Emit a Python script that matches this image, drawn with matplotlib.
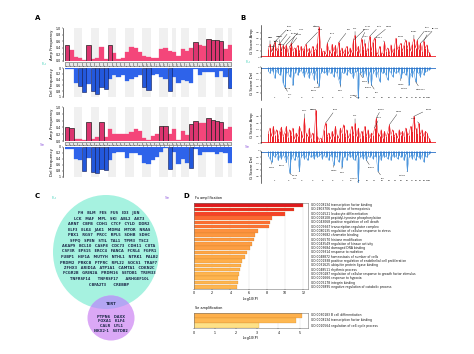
import matplotlib
matplotlib.use('Agg')
import matplotlib.pyplot as plt
import numpy as np
from matplotlib.patches import Ellipse, Rectangle

W, H = 474, 354
plt.rcParams['font.family'] = ['DejaVu Sans']
fig = plt.figure(figsize=(W / 100, H / 100), dpi=100)


def px_axes(x0, y0, x1, y1):
    return fig.add_axes([x0 / W, 1 - y1 / H, (x1 - x0) / W, (y1 - y0) / H])


# ---------------- Panel A data ----------------
arms = ['1p', '1q', '2p', '2q', '3p', '3q', '4p', '4q', '5p', '5q', '6p', '6q',
        '7p', '7q', '8p', '8q', '9p', '9q', '10p', '10q', '11p', '11q', '12p',
        '12q', '13q', '14q', '15q', '16p', '16q', '17p', '17q', '18p', '18q',
        '19p', '19q', '20p', '20q', '21q', '22q']
fu_amp = [0.48, 0.34, 0.13, 0.08, 0.02, 0.50, 0.05, 0.08, 0.41, 0.05, 0.49, 0.23,
          0.05, 0.08, 0.27, 0.42, 0.38, 0.27, 0.16, 0.12, 0.08, 0.08, 0.35, 0.38,
          0.30, 0.26, 0.14, 0.37, 0.31, 0.40, 0.58, 0.50, 0.44, 0.67, 0.64, 0.63,
          0.60, 0.35, 0.50]
fu_del = [0.05, 0.05, 0.50, 0.63, 0.82, 0.55, 0.80, 0.88, 0.67, 0.74, 0.37, 0.25,
          0.31, 0.25, 0.45, 0.37, 0.31, 0.25, 0.67, 0.75, 0.25, 0.20, 0.30, 0.37,
          0.79, 0.30, 0.50, 0.40, 0.45, 0.50, 0.05, 0.25, 0.15, 0.15, 0.15, 0.30,
          0.10, 0.30, 0.70]
se_amp = [0.40, 0.37, 0.07, 0.06, 0.04, 0.57, 0.07, 0.12, 0.55, 0.12, 0.35, 0.22,
          0.20, 0.22, 0.20, 0.27, 0.34, 0.30, 0.10, 0.04, 0.14, 0.22, 0.44, 0.44,
          0.20, 0.35, 0.04, 0.30, 0.19, 0.50, 0.59, 0.52, 0.54, 0.67, 0.62, 0.59,
          0.57, 0.34, 0.42]
se_del = [0.05, 0.05, 0.40, 0.43, 0.80, 0.37, 0.83, 0.88, 0.72, 0.77, 0.43, 0.20,
          0.18, 0.15, 0.37, 0.20, 0.20, 0.25, 0.52, 0.57, 0.43, 0.32, 0.15, 0.02,
          0.74, 0.15, 0.55, 0.40, 0.52, 0.70, 0.05, 0.26, 0.18, 0.18, 0.15, 0.22,
          0.15, 0.20, 0.52]
fu_amp_sig = ['1p', '3q', '6p', '17q', '19p', '19q', '20p', '20q']
se_amp_sig = ['1p', '1q', '3q', '5p', '12p', '12q', '17p', '17q', '19p', '19q', '20p', '20q']
fu_del_sig = ['2q', '3p', '4p', '4q', '5p', '5q', '10p', '10q', '13q', '22q']
se_del_sig = ['3p', '4p', '4q', '5p', '5q', '13q', '17p']

AMP_C = '#f4467a'
DEL_C = '#2e63ea'
TEAL = '#56d6c0'
PURP = '#9b6be0'
FS_T = 2.3


def stripes(ax):
    for i, a in enumerate(arms):
        c = int(a[:-1])
        if c % 2 == 0:
            ax.axvspan(i - 0.5, i + 0.5, color='#f0f0f0', lw=0, zorder=0)


def style_left(ax):
    for s in ['top', 'right', 'bottom']:
        ax.spines[s].set_visible(False)
    ax.spines['left'].set_linewidth(0.4)
    ax.spines['left'].set_position(('outward', 1.5))
    ax.set_xticks([])
    ax.tick_params(axis='y', labelsize=FS_T, length=1, width=0.3, pad=0.6)


def amp_panel(ax, vals, sig):
    x = np.arange(len(arms))
    stripes(ax)
    for i, a in enumerate(arms):
        s = a in sig
        ax.bar(x[i], vals[i], width=1.0, color='#dc3570' if s else AMP_C,
               edgecolor='#202020' if s else AMP_C, lw=0.5 if s else 0.2, zorder=3 if s else 2)
    ax.set_xlim(-0.5, len(arms) - 0.5)
    ax.set_ylim(0, 1.0)
    ax.set_yticks([0, 0.2, 0.4, 0.6, 0.8, 1.0])
    ax.set_yticklabels(['0.0', '0.2', '0.4', '0.6', '0.8', '1.0'])
    ax.set_ylabel('Amp Frequency', fontsize=2.8, labelpad=1)
    style_left(ax)


def del_panel(ax, vals, sig):
    x = np.arange(len(arms))
    stripes(ax)
    for i, a in enumerate(arms):
        s = a in sig
        ax.bar(x[i], vals[i], width=1.0, color='#2358dc' if s else DEL_C,
               edgecolor='#101850' if s else DEL_C, lw=0.4 if s else 0.2, zorder=3 if s else 2)
    ax.set_xlim(-0.5, len(arms) - 0.5)
    ax.set_ylim(1.0, 0)
    ax.set_yticks([0, 0.2, 0.4, 0.6, 0.8, 1.0])
    ax.set_yticklabels(['0', '0.2', '0.4', '0.6', '0.8', '1'])
    ax.set_ylabel('Del Frequency', fontsize=2.8, labelpad=1)
    style_left(ax)


def strip(ax):
    ax.set_xlim(-0.5, len(arms) - 0.5)
    ax.set_ylim(0, 1)
    ax.axis('off')
    ax.add_patch(Rectangle((-0.5, 0), len(arms), 1, color='#9c9c9c', lw=0))
    for i, a in enumerate(arms):
        ax.add_patch(Rectangle((i - 0.38, 0.15), 0.76, 0.7, color='#e8e8e8', lw=0))
        ax.text(i, 0.5, a, fontsize=1.3, rotation=90, ha='center', va='center', color='#333333')


fig.text(35 / W, 1 - 18 / H, 'A', fontsize=5, fontweight='bold', va='center')
a1 = px_axes(65, 28, 232, 61); amp_panel(a1, fu_amp, fu_amp_sig)
s1 = px_axes(65, 62, 232, 67); strip(s1)
d1 = px_axes(65, 68, 232, 97); del_panel(d1, fu_del, fu_del_sig)
fig.text(42 / W, 1 - 64 / H, 'Fu', fontsize=3, color=TEAL, va='center')
a2 = px_axes(65, 107, 232, 141); amp_panel(a2, se_amp, se_amp_sig)
s2 = px_axes(65, 142, 232, 146); strip(s2)
d2 = px_axes(65, 147, 232, 177); del_panel(d2, se_del, se_del_sig)
fig.text(40 / W, 1 - 145 / H, 'Se', fontsize=3, color=PURP, va='center')

# ---------------- Panel B data ----------------
chrom_names = [str(i) for i in range(1, 23)]
chrom_sizes = [249, 243, 198, 191, 181, 171, 159, 146, 141, 136, 135, 133,
               115, 107, 102, 90, 83, 80, 59, 64, 47, 51]
fu_gamp = [0.25, 0.42, 0.18, 0.35, 0.50, 0.22, 0.30, 0.45, 0.20, 0.38,
           0.28, 0.40, 0.15, 0.33, 0.46, 0.20, 0.30, 0.25, 0.38, 0.15,
           0.35, 0.22, 0.30, 0.42, 0.18, 0.28, 0.12, 0.35, 0.20, 0.25,
           0.45, 1.00, 0.30, 0.15, 0.20, 0.10, 0.45, 0.22, 0.12, 0.42,
           0.20, 0.38, 0.10, 0.48, 0.15, 0.30, 0.12, 0.25, 0.35, 0.10,
           0.30, 0.15, 0.55, 0.72, 0.20, 0.35, 0.12, 0.60, 0.25, 0.45,
           0.15, 0.30, 0.68, 0.20, 0.50, 0.62, 0.18, 0.10, 0.35, 0.12,
           0.12, 0.50, 0.20, 0.30, 0.10, 0.40, 0.15, 0.28, 0.62, 0.25,
           0.35, 0.45, 0.20, 0.40, 0.55, 0.30, 0.50, 0.20, 0.42, 0.60,
           0.30, 0.55, 0.25, 0.45, 0.20, 0.52, 0.30, 0.40, 0.15, 0.10]
fu_gdel = [0.12, 0.20, 0.08, 0.15, 0.35, 0.10, 0.18, 0.25, 0.12, 0.50,
           0.62, 0.20, 0.15, 0.30, 0.12, 0.55, 0.20, 0.10, 0.25, 0.15,
           0.10, 0.18, 0.30, 0.12, 0.20, 0.35, 0.15, 0.20, 0.40, 0.12,
           0.45, 0.60, 0.20, 0.12, 0.18, 0.15, 0.25, 0.10, 0.20, 0.15,
           0.30, 0.12, 0.20, 0.38, 0.55, 0.15, 0.20, 0.12, 0.25, 0.10,
           0.18, 0.20, 0.35, 0.15, 0.12, 0.97, 0.20, 0.15, 0.30, 0.12,
           0.25, 0.45, 0.15, 0.55, 0.20, 0.10, 0.30, 0.15, 0.45, 0.12,
           0.20, 0.15, 0.25, 0.40, 0.10, 0.18, 0.30, 0.12, 0.20, 0.15,
           0.10, 0.35, 0.20, 0.15, 0.25, 0.12, 0.55, 0.20, 0.30, 0.12,
           0.45, 0.15, 0.20, 0.30, 0.10, 0.25, 0.15, 0.12, 0.08, 0.05]
se_gamp = [0.30, 0.45, 0.20, 0.50, 0.25, 0.40, 0.15, 0.35, 0.48, 0.20,
           0.30, 0.50, 0.18, 0.40, 0.25, 0.45, 0.12, 0.30, 0.20, 0.50,
           0.35, 0.15, 0.75, 0.30, 0.20, 0.45, 0.15, 0.30, 0.10, 1.00,
           0.20, 0.10, 0.15, 0.08, 0.40, 0.60, 0.20, 0.30, 0.12, 0.35,
           0.20, 0.50, 0.25, 0.15, 0.45, 0.30, 0.55, 0.20, 0.40, 0.15,
           0.30, 0.50, 0.25, 0.60, 0.20, 0.45, 0.15, 0.35, 0.25, 0.50,
           0.20, 0.40, 0.15, 0.30, 0.25, 0.45, 0.75, 0.30, 0.20, 0.40,
           0.15, 0.35, 0.20, 0.30, 0.55, 0.25, 0.40, 0.20, 0.30, 0.15,
           0.40, 0.25, 0.35, 0.20, 0.45, 0.30, 0.25, 0.50, 0.35, 0.80,
           0.45, 0.30, 0.60, 0.25, 0.40, 0.20, 0.35, 0.30, 0.15, 0.10]
se_gdel = [0.15, 0.25, 0.35, 0.12, 0.20, 0.10, 0.30, 0.15, 0.25, 0.12,
           0.20, 0.35, 0.15, 0.70, 0.25, 0.12, 0.30, 0.15, 0.20, 0.65,
           0.20, 0.12, 0.25, 0.15, 0.30, 0.10, 0.20, 0.15, 0.25, 0.12,
           0.20, 0.15, 0.10, 0.25, 0.12, 0.20, 0.15, 0.30, 0.12, 0.20,
           0.45, 0.15, 0.20, 0.35, 0.12, 0.50, 0.20, 0.15, 0.30, 0.10,
           0.20, 0.15, 0.25, 0.30, 0.12, 1.00, 0.20, 0.15, 0.25, 0.12,
           0.30, 0.15, 0.20, 0.12, 0.25, 0.15, 0.20, 0.65, 0.15, 0.30,
           0.12, 0.20, 0.15, 0.25, 0.10, 0.30, 0.12, 0.20, 0.15, 0.25,
           0.12, 0.20, 0.15, 0.30, 0.10, 0.65, 0.20, 0.15, 0.25, 0.12,
           0.30, 0.15, 0.20, 0.25, 0.12, 0.35, 0.15, 0.20, 0.10, 0.05]
# peak labels: gene name and bin index of its locus
fu_amp_genes = ['MCL1', 'JUN', 'MYCL', 'BCL9', 'ARNT', 'SETDB1', 'MDM4', 'NRAS',
                'AKT3', 'CDK4', 'REL', 'MYCN', 'ALK', 'ERBB4', 'SOX2', 'TERT',
                'MYC', 'CCND1', 'KRAS', 'MDM2', 'ERBB2', 'CCNE1', 'ZNF217', 'AKT2',
                'BCL2L1', 'NKX2-1', 'YAP1', 'EGFR', 'MET', 'FGFR1']
fu_amp_loci = [4, 1, 3, 7, 4, 5, 7, 2, 9, 11, 10, 8, 14, 13, 23, 31, 53, 57, 62, 65,
               84, 89, 95, 91, 93, 71, 59, 36, 43, 52]
fu_del_genes = ['CDKN2A', 'PTEN', 'RB1', 'SMAD4', 'WWOX', 'FHIT', 'LRP1B', 'PDE4D',
                'MACROD2', 'PARK2', 'CSMD1', 'PTPRD']
fu_del_loci = [55, 44, 63, 86, 81, 10, 15, 30, 90, 31, 61, 56]
se_amp_genes = ['TERT', 'MYC', 'CCND1', 'MDM2', 'ERBB2', 'CDK4', 'MCL1', 'KRAS', 'SOX2']
se_amp_loci = [29, 53, 66, 74, 89, 92, 22, 65, 35]
se_del_genes = ['CDKN2A', 'PTEN', 'RB1', 'SMAD4', 'WWOX', 'FHIT', 'LRP1B', 'PTPRD',
                'CSMD1', 'PARK2']
se_del_loci = [55, 45, 67, 85, 40, 13, 19, 2, 60, 11]

T = sum(chrom_sizes)
starts = np.concatenate([[0], np.cumsum(chrom_sizes)[:-1]])
mids = starts + np.array(chrom_sizes) / 2.0


def g_style(ax, label, ylim):
    for s in ['top', 'right', 'bottom']:
        ax.spines[s].set_visible(False)
    ax.spines['left'].set_linewidth(0.4)
    ax.set_xticks([])
    ax.set_xlim(-0.04 * T, 1.03 * T)
    ax.set_ylim(*ylim)
    ax.set_yticks([0, 0.2, 0.4, 0.6, 0.8])
    ax.set_yticklabels(['0', '0.2', '0.4', '0.6', '0.8'])
    ax.tick_params(axis='y', labelsize=1.6, length=0.8, width=0.3, pad=0.4)
    ax.set_ylabel(label, fontsize=2.8, labelpad=1)


def g_amp(ax, vals, genes, loci):
    n = len(vals)
    x = (np.arange(n) + 0.5) / n * T
    ax.vlines(x, 0, vals, color='#ec1c24', lw=0.7)
    ax.plot(x, vals, color='#ec1c24', lw=0.35)
    ax.axhline(0.04, color='#ec1c24', lw=0.6)
    g_style(ax, 'G Score Amp', (0, 1.05))
    for k, (g, i) in enumerate(zip(genes, loci)):
        xt = x[i] + ((k % 5) - 1) * 0.03 * T
        yt = min(vals[i] + 0.12 + 0.09 * (k % 5), 1.0)
        ax.annotate(g, xy=(x[i], vals[i]), xytext=(xt, yt), fontsize=1.4,
                    ha='center', va='bottom', color='black',
                    arrowprops=dict(arrowstyle='-', lw=0.25, color='black',
                                    shrinkA=0, shrinkB=0))


def g_del(ax, vals, genes, loci):
    n = len(vals)
    x = (np.arange(n) + 0.5) / n * T
    ax.vlines(x, 0, vals, color='#4c95dc', lw=0.7)
    ax.plot(x, vals, color='#4c95dc', lw=0.35)
    ax.axhline(0.04, color='#2a70c8', lw=0.6)
    for k, (g, i) in enumerate(zip(genes, loci)):
        xt = x[i] + ((k % 3) - 1) * 0.03 * T
        yt = min(vals[i] + 0.1 + 0.06 * (k % 3), 0.85)
        ax.annotate(g, xy=(x[i], vals[i]), xytext=(xt, yt), fontsize=1.4,
                    ha='center', va='top', color='black',
                    arrowprops=dict(arrowstyle='-', lw=0.25, color='black',
                                    shrinkA=0, shrinkB=0))
    for nm, m in zip(chrom_names, mids):
        ax.text(m, 0.93, nm, fontsize=1.6, ha='center', va='center')
    g_style(ax, 'G Score Del', (1.02, 0))


fig.text(240 / W, 1 - 18 / H, 'B', fontsize=5, fontweight='bold', va='center')
b1 = px_axes(261, 25, 436, 57); g_amp(b1, fu_gamp, fu_amp_genes, fu_amp_loci)
b2 = px_axes(261, 67, 436, 100); g_del(b2, fu_gdel, fu_del_genes, fu_del_loci)
fig.text(246 / W, 1 - 62 / H, 'Fu', fontsize=3, color=TEAL, va='center')
b3 = px_axes(261, 108, 436, 143); g_amp(b3, se_gamp, se_amp_genes, se_amp_loci)
b4 = px_axes(261, 151, 436, 183); g_del(b4, se_gdel, se_del_genes, se_del_loci)
fig.text(245 / W, 1 - 147 / H, 'Se', fontsize=3, color=PURP, va='center')

# ---------------- Panel C data ----------------
fu_only_rows = ['FH   BLM   FES   FUS   ID3   JUN',
                'LCK   MAF   MPL   SKI   ABL2   AKT3',
                'ARNT   CBFB   CDH1   CTCF   CYLD   DDR2',
                'ELF3   ELK4   JAK1   MDM4   MTOR   NRAS',
                'PBX1   RGS7   PRCC   RPL5   SDHB   SDHC',
                'SFPQ   SPEN   STIL   TAL1   TPM3   TSC2',
                'AKAP9   BCL10   CASP8   CDC73   CDH11   CIITA',
                'CSF3R   EPS15   ERCC4   FANCA   FCRL4   FGFR1',
                'FUBP1   HIF1A   MUTYH   NTHL1   NTRK1   PALB2',
                'PRDM2   PRKCB   PTPRC   RPL22   SOCS1   TRAF7',
                'ZFHX3   ARID1A   ATP1A1   CAMTA1   CDKN2C',
                'FCGR2B   GRIN2A   PRDM16   SETDB1   TRIM33',
                'TNFRSF14      TNFRSF17      ARHGEF10L',
                'CBFA2T3      CREBBP']
shared = ['TERT']
se_only_rows = ['PTPN6   DAXX', 'FOXA1   KLF4', 'CALR   LYL1', 'NKX2-1   SETDB2']

c = px_axes(35, 188, 185, 350)
c.set_xlim(35, 185); c.set_ylim(350, 188); c.axis('off')
big = Ellipse((106, 252), 106, 114, color='#a6f2e0', lw=0)
small = Ellipse((111, 318), 47, 45, color='#dba8f6', lw=0)
c.add_patch(big); c.add_patch(small)
ov = Ellipse((111, 318), 47, 45, color='#b3a6f3', lw=0)
c.add_patch(ov)
clip = Ellipse((106, 252), 106, 114, transform=c.transData)
ov.set_clip_path(clip)
for k, r in enumerate(fu_only_rows):
    c.text(109, 213 + 5.5 * k, r, fontsize=2.55, ha='center', va='center',
           color='#1e2a4a', fontweight='bold', family='Liberation Sans Narrow')
c.text(111, 304, shared[0], fontsize=2.8, ha='center', va='center',
       color='#1e2a4a', fontweight='bold', family='Liberation Sans Narrow')
for k, r in enumerate(se_only_rows):
    c.text(111, 317 + 4.5 * k, r, fontsize=2.55, ha='center', va='center',
           color='#1e2a4a', fontweight='bold', family='Liberation Sans Narrow')
fig.text(35 / W, 1 - 196 / H, 'C', fontsize=5, fontweight='bold', va='center')
fig.text(52 / W, 1 - 198 / H, 'Fu', fontsize=3, color=TEAL, va='center')
fig.text(165 / W, 1 - 198 / H, 'Se', fontsize=3, color=PURP, va='center')

# ---------------- Panel D data ----------------
fu_terms = ['GO:0008134 transcription factor binding',
            'GO:1903706 regulation of hemopoiesis',
            'GO:0002521 leukocyte differentiation',
            'GO:0018108 peptidyl-tyrosine phosphorylation',
            'GO:0043068 positive regulation of cell death',
            'GO:0005667 transcription regulator complex',
            'GO:0080135 regulation of cellular response to stress',
            'GO:0003682 chromatin binding',
            'GO:0016570 histone modification',
            'GO:0043549 regulation of kinase activity',
            'GO:0003684 damaged DNA binding',
            'GO:0009314 response to radiation',
            'GO:0048872 homeostasis of number of cells',
            'GO:0001938 positive regulation of endothelial cell proliferation',
            'GO:0031625 ubiquitin protein ligase binding',
            'GO:0048511 rhythmic process',
            'GO:0090287 regulation of cellular response to growth factor stimulus',
            'GO:0001666 response to hypoxia',
            'GO:0005178 integrin binding',
            'GO:0009895 negative regulation of catabolic process']
fu_logp = [11.9, 11.0, 10.0, 8.55, 8.36, 8.18, 7.0, 6.7, 6.54, 6.36, 6.18, 5.85,
           5.56, 5.27, 5.12, 5.05, 4.94, 4.87, 4.84, 4.76]
se_terms = ['GO:0030183 B cell differentiation',
            'GO:0008134 transcription factor binding',
            'GO:0010564 regulation of cell-cycle process']
se_logp = [5.1, 4.85, 3.1]


def d_panel(ax, terms, vals, xmax, ticks, cmin, cmax):
    n = len(vals)
    y = np.arange(n)
    cmap = plt.get_cmap('YlOrRd')
    vmin, vmax = min(vals), max(vals)
    cols = [cmap(cmin + (cmax - cmin) * (v - vmin) / (vmax - vmin)) for v in vals]
    ax.barh(y, vals, height=0.85, color=cols, edgecolor='#c07a20', lw=0.15, zorder=2)
    ax.set_ylim(n - 0.5, -0.5)
    ax.set_xlim(0, xmax)
    ax.set_yticks([])
    ax.set_xticks(ticks)
    ax.set_xticklabels([str(t) for t in ticks])
    ax.tick_params(axis='x', labelsize=2.3, length=1, width=0.3, pad=0.8)
    for s in ax.spines.values():
        s.set_linewidth(0.4); s.set_color('#777777')
    ax.grid(axis='x', color='#dddddd', lw=0.3, zorder=0)
    ax.set_axisbelow(True)
    for i, t in enumerate(terms):
        ax.text(1.025, i, t, transform=ax.get_yaxis_transform(), fontsize=2.2,
                va='center', ha='left', color='#111111')
    ax.set_xlabel('-log10(P)', fontsize=2.5, labelpad=1)


fig.text(183 / W, 1 - 196 / H, 'D', fontsize=5, fontweight='bold', va='center')
e1 = px_axes(194, 203, 308, 289)
d_panel(e1, fu_terms, fu_logp, 12.5, [0, 2, 4, 6, 8, 10, 12], 0.36, 0.76)
fig.text(195 / W, 1 - 198 / H, 'Fu amplification', fontsize=2.4, va='center')
e2 = px_axes(194, 313, 308, 328)
d_panel(e2, se_terms, se_logp, 5.4, [0, 1, 2, 3, 4, 5], 0.2, 0.38)
fig.text(195 / W, 1 - 308 / H, 'Se amplification', fontsize=2.4, va='center')

fig.savefig('out.png', dpi=100)
